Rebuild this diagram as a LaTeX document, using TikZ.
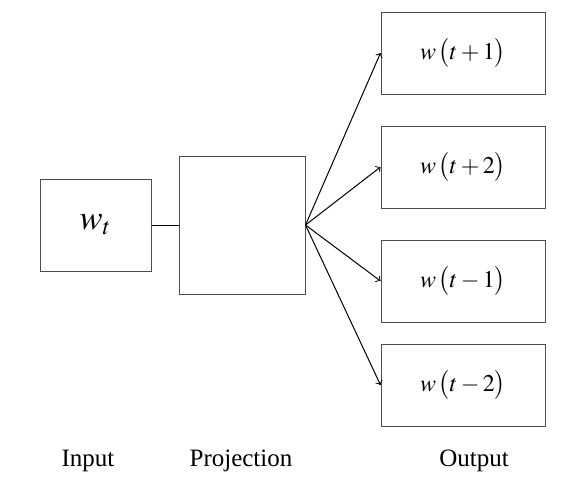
\documentclass[tikz,border=0pt]{standalone}
\usepackage{amsmath}
\usepackage{mathptmx}
\usepackage{fontspec}
\setmainfont{Liberation Serif}
\usepackage{tikz}
\usetikzlibrary{positioning}
\usetikzlibrary{arrows}
\tikzset{box node/.style={rectangle,draw=black!70,inner sep=0pt},
         out node/.style={box node,minimum width=82pt,minimum height=41pt,font=\large},
         label node/.style={anchor=base,font=\fontsize{12.5}{15}\selectfont},}

\begin{document}
\begin{tikzpicture}[auto,node distance=15.5pt,line width=0.5pt]
    \useasboundingbox (0,0) rectangle (283pt,-241.5pt);
    \node[box node,minimum width=55.5pt,minimum height=46pt] (in) at (47.75pt,-112.5pt) {\LARGE $w_{t}$};
    \node[box node,minimum width=63pt,minimum height=69pt] (proj) [right = 13.5pt of in] {};
    \node[out node] (1) at (231.5pt,-26.5pt) {$w\,\bigl(t+1\bigr)$};
    \node[out node] (2) [below = of 1] {$w\,\bigl(t+2\bigr)$};
    \node[out node] (3) [below = of 2] {$w\,\bigl(t-1\bigr)$};
    \node[out node] (4) [below = 10.5pt of 3] {$w\,\bigl(t-2\bigr)$};

    \node[label node] (lin) at (44pt,-233pt) {Input};
    \node[label node] (lproj) at (120.5pt,-233pt) {Projection};
    \node[label node] (lout) at (237pt,-233pt) {Output};

    \path[draw]
    (in) edge node {} (proj)
    (proj.east) edge [->] node {} (1.west)
    (proj.east) edge [->] node {} (2.west)
    (proj.east) edge [->] node {} (3.west)
    (proj.east) edge [->] node {} (4.west);
\end{tikzpicture}
\end{document}
